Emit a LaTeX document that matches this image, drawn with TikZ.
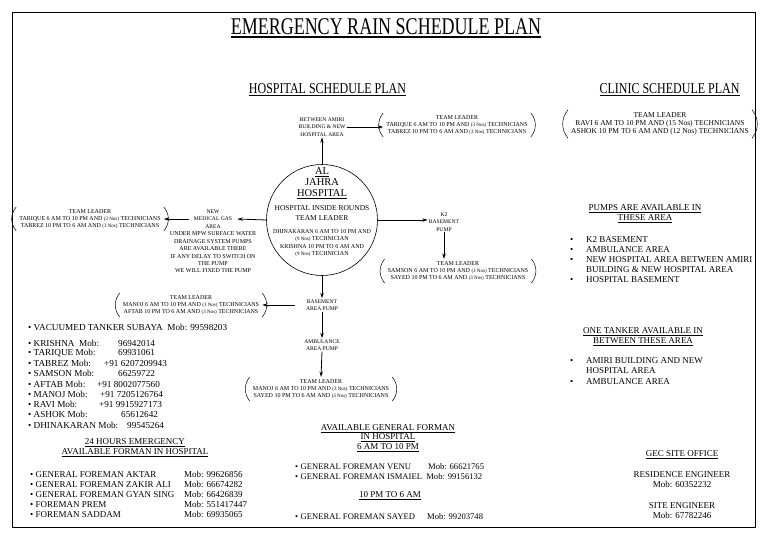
\documentclass[tikz,border=0pt]{standalone}
\usepackage{fontspec}
\setmainfont{Liberation Serif}
\usetikzlibrary{arrows.meta}

\lineskiplimit=-10pt
\newcommand{\ulc}[2][0.8pt]{\setbox0\hbox{#2}\rlap{\rule[-\dimexpr1.5pt+#1\relax]{\wd0}{#1}}\box0}
\newcommand{\nos}[1]{{\fontsize{5}{5}\selectfont(#1 Nos)}}
\newcommand{\bul}{\makebox[5.5pt][l]{\textbullet}}

\begin{document}
\begin{tikzpicture}[x=1pt, y=-1pt,
    every node/.style={inner sep=1pt, align=center},
    heading/.style={anchor=base, font=\fontsize{15}{17}\selectfont},
    subhead/.style={font=\fontsize{9}{10}\selectfont},
    lbl/.style={font=\fontsize{5.6}{7.3}\selectfont},
    team/.style={font=\fontsize{6}{6.8}\selectfont, inner xsep=3pt, inner ysep=2.5pt},
    row/.style={anchor=west, inner sep=0pt, font=\fontsize{9.2}{11}\selectfont},
    fmrow/.style={row, font=\fontsize{9}{11}\selectfont},
    midrow/.style={row, font=\fontsize{8.6}{11}\selectfont},
    rrow/.style={row, font=\fontsize{9}{11}\selectfont},
    arrow/.style={-{Stealth[length=5.5pt,width=3.4pt]}, line width=0.8pt},
    paren/.style={line width=0.5pt}
]
\useasboundingbox (0,0) rectangle (768,543);
\draw[line width=0.8pt] (12,12) rectangle (755,527);

% titles
\node[anchor=base, font=\fontsize{24}{26}\selectfont] (title) at (386,35) {\scalebox{0.75}[1]{\ulc[1.4pt]{EMERGENCY RAIN SCHEDULE PLAN}}};
\node[heading] (hosphead) at (327.5,93) {\scalebox{0.8}[1]{\ulc[1pt]{HOSPITAL SCHEDULE PLAN}}};
\node[heading] (clinhead) at (669.5,93) {\scalebox{0.8}[1]{\ulc[1pt]{CLINIC SCHEDULE PLAN}}};

% hospital
\node[draw, circle, line width=0.6pt, minimum size=111pt, inner sep=0pt] (hosp) at (322,220) {};
\node[font=\fontsize{10.5}{11}\selectfont] (hname) at (322,183) {\ulc[0.6pt]{AL}\\JAHRA\\\ulc[0.9pt]{HOSPITAL}};
\node[font=\fontsize{7.5}{9.5}\selectfont] (rounds) at (322,213) {HOSPITAL INSIDE ROUNDS\\TEAM LEADER};
\node[font=\fontsize{6}{7.4}\selectfont] (dhina) at (322,243) {DHINAKARAN 6 AM TO 10 PM AND\\\nos{9} TECHNICIAN\\KRISHNA 10 PM TO 6 AM AND\\\nos{9} TECHNICIAN};

% areas round the hospital
\node[lbl] (amiri) at (322,127) {BETWEEN AMIRI\\BUILDING \& NEW\\HOSPITAL AREA};
\node[team] (tl1) at (457,125) {TEAM LEADER\\TARIQUE 6 AM TO 10 PM AND \nos{3} TECHNICIANS\\TABREZ 10 PM TO 6 AM AND \nos{3} TECHNICIANS};

\node[lbl, inner xsep=5pt] (gas) at (213,219) {NEW\\MEDICAL GAS\\AREA};
\node[team] (tl2) at (90,219) {TEAM LEADER\\TARIQUE 6 AM TO 10 PM AND \nos{3} TECHNICIANS\\TABREZ 10 PM TO 6 AM AND \nos{3} TECHNICIANS};
\node[lbl, font=\fontsize{6}{7.4}\selectfont] (note) at (213,252.5) {UNDER MPW SURFACE WATER\\DRAINAGE SYSTEM PUMPS\\ARE AVAILABLE THERE\\IF ANY DELAY TO SWITCH ON\\THE PUMP\\WE WILL FIXED THE PUMP};

\node[lbl] (k2) at (444,222) {K2\\BASEMENT\\PUMP};
\node[team] (tl3) at (458,271) {TEAM LEADER\\SAMSON 6 AM TO 10 PM AND \nos{3} TECHNICIANS\\SAYED 10 PM TO 6 AM AND \nos{3} TECHNICIANS};

\node[lbl] (bsmt) at (322,305) {BASEMENT\\AREA PUMP};
\node[team] (tl4) at (191,305) {TEAM LEADER\\MANOJ 6 AM TO 10 PM AND \nos{3} TECHNICIANS\\AFTAB 10 PM TO 6 AM AND \nos{3} TECHNICIANS};
\node[lbl] (amb) at (322,345) {AMBULANCE\\AREA PUMP};
\node[team] (tl5) at (321,389) {TEAM LEADER\\MANOJ 6 AM TO 10 PM AND \nos{3} TECHNICIANS\\SAYED 10 PM TO 6 AM AND \nos{3} TECHNICIANS};

\draw[arrow] (hosp.north) -- (amiri.south);
\draw[arrow] (amiri.east) -- (amiri.east -| tl1.west);
\draw[arrow] (hosp.west) -- (gas.east);
\draw[arrow] (gas.west) -- (tl2.east);
\draw[arrow] (hosp.east) -- (hosp.east -| k2.west);
\draw[arrow] (k2.south) -- (k2.south |- tl3.north);
\draw[arrow] (hosp.south) -- (bsmt.north);
\draw[arrow, shorten <=10pt] (bsmt.west) -- (tl4.east);
\draw[arrow] (bsmt.south) -- (amb.north);
\draw[arrow] (amb.south) -- (tl5.north);

% clinic
\node[team, font=\fontsize{7.5}{8.2}\selectfont] (tl6) at (660,124) {TEAM LEADER\\RAVI 6 AM TO 10 PM AND (15 Nos) TECHNICIANS\\ASHOK 10 PM TO 6 AM AND (12 Nos) TECHNICIANS};

\foreach \t in {tl1,tl2,tl3,tl4,tl5,tl6} {
  \draw[paren] (\t.north west) to[bend right=40] (\t.south west);
  \draw[paren] (\t.north east) to[bend left=40] (\t.south east);
}

% phone list
\node[row] (vac) at (28,327) {\bul VACUUMED TANKER SUBAYA\ \ Mob: 99598203};
\node[row] (krishna) at (28,343) {\bul\makebox[84.5pt][l]{KRISHNA\ \ Mob:}96942014};
\node[row] (tarique) at (28,353) {\bul\makebox[84.5pt][l]{TARIQUE Mob:}69931061};
\node[row] (tabrez) at (28,363.5) {\bul\makebox[70.5pt][l]{TABREZ Mob:}+91 6207209943};
\node[row] (samson) at (28,373.5) {\bul\makebox[84.5pt][l]{SAMSON Mob:}66259722};
\node[row] (aftab) at (28,384) {\bul\makebox[63.5pt][l]{AFTAB Mob:}+91 8002077560};
\node[row] (manoj) at (28,394) {\bul\makebox[66.5pt][l]{MANOJ Mob:}+91 7205126764};
\node[row] (ravi) at (28,404) {\bul\makebox[65.5pt][l]{RAVI Mob:}+91 9915927173};
\node[row] (ashok) at (28,414.5) {\bul\makebox[87.5pt][l]{ASHOK Mob:}65612642};
\node[row] (dhinakaran) at (28,425) {\bul\makebox[93.5pt][l]{DHINAKARAN Mob:}99545264};

% foremen
\node[subhead] (emerg) at (135,448) {\ulc{24 HOURS EMERGENCY}\\\ulc[1pt]{AVAILABLE FORMAN IN HOSPITAL}};
\node[fmrow] (aktar) at (30,474) {\bul\makebox[148.5pt][l]{GENERAL FOREMAN AKTAR}Mob: 99626856};
\node[fmrow] (zakir) at (30,484) {\bul\makebox[148.5pt][l]{GENERAL FOREMAN ZAKIR ALI}Mob: 66674282};
\node[fmrow] (gyan) at (30,494) {\bul\makebox[148.5pt][l]{GENERAL FOREMAN GYAN SING}Mob: 66426839};
\node[fmrow] (prem) at (30,504) {\bul\makebox[148.5pt][l]{FOREMAN PREM}Mob: 551417447};
\node[fmrow] (saddam) at (30,514) {\bul\makebox[148.5pt][l]{FOREMAN SADDAM}Mob: 69935065};

\node[subhead, font=\fontsize{9}{9.2}\selectfont] (avail) at (388,438) {\ulc[0.7pt]{AVAILABLE GENERAL FORMAN}\\\ulc[0.7pt]{IN HOSPITAL}\\\ulc[0.7pt]{6 AM TO 10 PM}};
\node[midrow] (venu) at (295,467) {\bul\makebox[127.5pt][l]{GENERAL FOREMAN VENU}Mob: 66621765};
\node[midrow] (ismaiel) at (295,477) {\bul GENERAL FOREMAN ISMAIEL\ \ Mob: 99156132};
\node[subhead] (night) at (390,496) {\ulc{10 PM TO 6 AM}};
\node[midrow] (sayed) at (295,517) {\bul\makebox[126.5pt][l]{GENERAL FOREMAN SAYED}Mob: 99203748};

% pumps and tanker
\node[subhead] (pumps) at (645,214) {\ulc{PUMPS ARE AVAILABLE IN}\\\ulc{THESE AREA}};
\node[rrow] (pk2) at (570,240) {\makebox[16pt][l]{\textbullet}K2 BASEMENT};
\node[rrow] (pamb) at (570,250) {\makebox[16pt][l]{\textbullet}AMBULANCE AREA};
\node[rrow] (pnew) at (570,260) {\makebox[16pt][l]{\textbullet}NEW HOSPITAL AREA BETWEEN AMIRI};
\node[rrow] (pnewb) at (586,270) {BUILDING \& NEW HOSPITAL AREA};
\node[rrow] (pbsmt) at (570,280) {\makebox[16pt][l]{\textbullet}HOSPITAL BASEMENT};

\node[subhead] (tanker) at (643,337) {\ulc{ONE TANKER AVAILABLE IN}\\\ulc{BETWEEN THESE AREA}};
\node[rrow] (tamiri) at (570,361) {\makebox[16pt][l]{\textbullet}AMIRI BUILDING AND NEW};
\node[rrow] (tamirib) at (586,371) {HOSPITAL AREA};
\node[rrow] (tamb) at (570,382) {\makebox[16pt][l]{\textbullet}AMBULANCE AREA};

% site office
\node[subhead] (gec) at (682,455) {\ulc{GEC SITE OFFICE}};
\node[subhead] (resi) at (682,480) {RESIDENCE ENGINEER\\Mob: 60352232};
\node[subhead] (site) at (682,510.5) {SITE ENGINEER\\Mob: 67782246};
\end{tikzpicture}
\end{document}
